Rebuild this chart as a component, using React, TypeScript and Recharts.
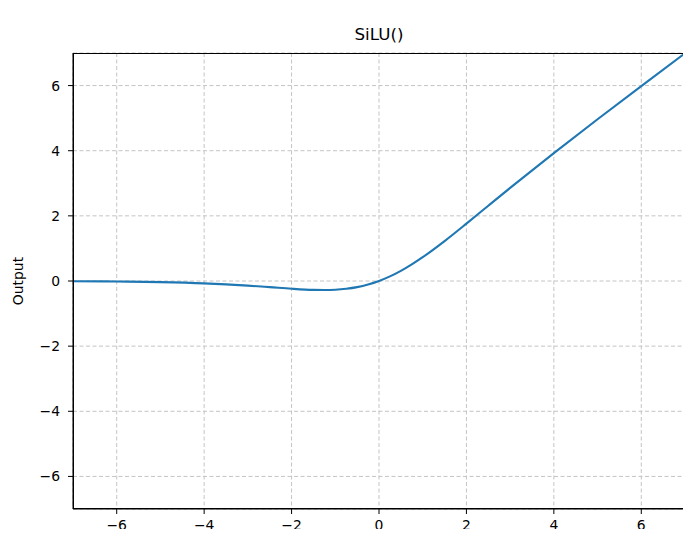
import React from "react";
import { LineChart, Line, XAxis, YAxis, CartesianGrid } from "recharts";

const xValues = [-7, -6, -5, -4, -3.5, -3, -2.5, -2, -1.5, -1.25, -1, -0.75, -0.5, -0.25, 0, 0.25, 0.5, 0.75, 1, 1.5, 2, 2.5, 3, 4, 5, 6, 7];
const yValues = [-0.0064, -0.0148, -0.0335, -0.0719, -0.1033, -0.1423, -0.1887, -0.2384, -0.2736, -0.2781, -0.2689, -0.2398, -0.1888, -0.1094, 0, 0.1406, 0.3112, 0.5102, 0.7311, 1.2263, 1.7616, 2.3113, 2.8577, 3.9281, 4.9665, 5.9852, 6.9936];
const xTicks = [-6, -4, -2, 0, 2, 4, 6];
const yTicks = [-6, -4, -2, 0, 2, 4, 6];

const data = xValues.map((x, i) => ({ x, y: yValues[i] }));

const FONT = "DejaVu Sans, sans-serif";
const fmt = (v: number) => (v < 0 ? "\u2212" + Math.abs(v) : String(v));

export default function App() {
  return (
    <div style={{ margin: -8, width: 691, height: 537, position: "relative", background: "#fff", fontFamily: FONT, overflow: "hidden" }}>
      <LineChart width={691} height={537} data={data} margin={{ top: 53, right: 6, left: 0, bottom: 0 }}>
        <CartesianGrid stroke="#c4c4c4" strokeDasharray="4 2.5" strokeWidth={1} />
        <XAxis
          dataKey="x"
          type="number"
          domain={[-7, 7]}
          ticks={xTicks}
          allowDataOverflow
          height={28}
          tickSize={5}
          tickMargin={6}
          tickFormatter={fmt}
          stroke="#000"
          tick={{ fill: "#000", fontSize: 13.9, fontFamily: FONT }}
          axisLine={{ stroke: "#000", strokeWidth: 1 }}
          tickLine={{ stroke: "#000", strokeWidth: 1 }}
        />
        <YAxis
          type="number"
          domain={[-7, 7]}
          ticks={yTicks}
          allowDataOverflow
          width={73}
          tickSize={5}
          tickMargin={8}
          tickFormatter={fmt}
          stroke="#000"
          tick={{ fill: "#000", fontSize: 13.9, fontFamily: FONT }}
          axisLine={{ stroke: "#000", strokeWidth: 1 }}
          tickLine={{ stroke: "#000", strokeWidth: 1 }}
        />
        <Line dataKey="y" type="monotone" stroke="#1f77b4" strokeWidth={2.1} dot={false} isAnimationActive={false} />
      </LineChart>
      <div style={{ position: "absolute", left: 73, top: 53, width: 612, height: 456, border: "1px solid #000", boxSizing: "border-box", pointerEvents: "none" }} />
      <div style={{ position: "absolute", left: 73, width: 612, top: 24, textAlign: "center", fontSize: 16.7, color: "#000", fontFamily: FONT }}>SiLU()</div>
      <div style={{ position: "absolute", left: 18, top: 281, transform: "translate(-50%, -50%) rotate(-90deg)", fontSize: 13.9, color: "#000", fontFamily: FONT, whiteSpace: "nowrap" }}>Output</div>
    </div>
  );
}
